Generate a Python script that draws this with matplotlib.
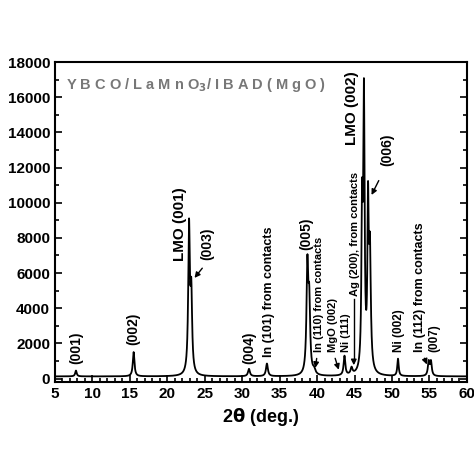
import matplotlib
matplotlib.use("Agg")
import matplotlib.pyplot as plt
import matplotlib.ticker as plticker
import numpy as np

plt.rcParams['font.family'] = ['Liberation Sans', 'DejaVu Sans']

# peak list (2theta, intensity, half width)
peak_pos = [7.8, 15.5, 22.9, 23.2, 30.9, 33.3, 38.7, 38.95, 39.6, 43.65, 44.6,
            46.0, 46.25, 46.8, 47.05, 50.8, 54.9, 55.2]
peak_int = [330, 1380, 8300, 4300, 420, 720, 6000, 3800, 250, 1100, 380,
            8500, 15300, 8800, 6600, 980, 800, 800]
peak_wid = [0.12, 0.13, 0.13, 0.13, 0.15, 0.15, 0.14, 0.14, 0.2, 0.13, 0.15,
            0.1, 0.11, 0.1, 0.14, 0.11, 0.13, 0.13]
baseline = 120

labels = [
    ("(001)", 7.9, 800, 10),
    ("(002)", 15.4, 1900, 10),
    ("LMO (001)", 21.7, 6700, 11),
    ("(003)", 25.3, 6750, 10),
    ("(004)", 31.0, 800, 10),
    ("In (101) from contacts", 33.6, 1250, 9),
    ("(005)", 38.6, 7300, 10),
    ("In (110) from contacts", 40.3, 1500, 8),
    ("MgO (002)", 42.1, 1500, 8),
    ("Ni (111)", 43.9, 1500, 8),
    ("Ag (200), from contacts", 45.1, 4700, 8),
    ("LMO (002)", 44.6, 13300, 11),
    ("(006)", 49.3, 12100, 10),
    ("Ni (002)", 51.0, 1500, 8.5),
    ("In (112) from contacts", 53.7, 1500, 9),
    ("(007)", 55.7, 1500, 8.5),
]
arrows = [((24.9, 6400), (23.4, 5600)),
          ((40.0, 1300), (39.7, 450)),
          ((42.3, 1300), (43.0, 350)),
          ((48.4, 11400), (47.1, 10300)),
          ((54.2, 1300), (54.8, 650))]

x = np.linspace(5, 60, 8000)
y = np.full_like(x, baseline, dtype=float)
for p, a, w in zip(peak_pos, peak_int, peak_wid):
    y += a * w**2 / ((x - p)**2 + w**2)

fig = plt.figure(figsize=(4.74, 4.74), dpi=100)
ax = fig.add_axes([0.116, 0.194, 0.869, 0.675])
ax.plot(x, y, color='black', linewidth=1.3)
ax.set_xlim(5, 60)
ax.set_ylim(-200, 18000)
ax.set_xticks(np.arange(5, 61, 5))
ax.set_yticks(np.arange(0, 18001, 2000))
ax.xaxis.set_minor_locator(plticker.MultipleLocator(1))
ax.yaxis.set_minor_locator(plticker.MultipleLocator(1000))
ax.tick_params(which='both', direction='in', right=True, width=1.2)
ax.tick_params(which='major', length=5, labelsize=11)
ax.tick_params(which='minor', length=3)
for lab in ax.get_xticklabels() + ax.get_yticklabels():
    lab.set_fontweight('bold')
for s in ax.spines.values():
    s.set_linewidth(1.5)
ax.set_xlabel(r"2$\mathbf{\theta}$ (deg.)", fontsize=13, fontweight='bold')

ax.text(6.5, 16700, r"Y B C O / L a M n O$_\mathbf{3}$/ I B A D ( M g O )", color='#777777',
        fontsize=10.5, fontweight='bold', va='center')
for txt, tx, ty, fs in labels:
    ax.text(tx, ty, txt, rotation=90, ha='center', va='bottom', fontsize=fs,
            fontweight='bold')
for (x0, y0), (x1, y1) in arrows:
    ax.annotate("", xy=(x1, y1), xytext=(x0, y0),
                arrowprops=dict(arrowstyle='-|>', color='black', lw=1, mutation_scale=8))
ax.plot([44.9, 44.9], [4500, 1000], color='black', lw=1)
ax.annotate("", xy=(44.9, 600), xytext=(44.9, 1100),
            arrowprops=dict(arrowstyle='-|>', color='black', lw=1, mutation_scale=8))

fig.savefig("out.png", dpi=100)
